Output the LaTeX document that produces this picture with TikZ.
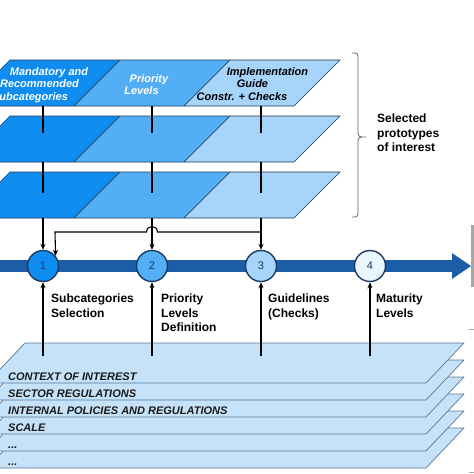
\documentclass[tikz,border=0pt]{standalone}
\usepackage{fontspec}
\setmainfont{Liberation Sans}
\usetikzlibrary{arrows.meta}
\definecolor{sA}{HTML}{0E8CF0}
\definecolor{sB}{HTML}{52AEF5}
\definecolor{sC}{HTML}{A6D4FA}
\definecolor{sD}{HTML}{EAF5FE}
\definecolor{navy}{HTML}{1D3A5E}
\definecolor{band}{HTML}{1B5DA6}
\definecolor{layer}{HTML}{C6E2F8}
\definecolor{layerline}{HTML}{58779A}
\begin{document}
\begin{tikzpicture}[x=1pt,y=-1pt,
 seg/.style={draw=navy, line width=0.6pt, line join=round},
 conn/.style={line width=1.1pt, draw=black},
 arr/.style={conn, -{Stealth[length=6pt,width=5pt]}},
 stepc/.style={circle, draw=navy, line width=1.4pt, minimum size=31pt, inner sep=0pt, font=\fontsize{11}{11}\selectfont, text=navy},
 lbl/.style={anchor=north west, inner sep=0pt, align=left, font=\fontsize{12}{14.5}\selectfont\bfseries},
 ptext/.style={inner sep=0pt, anchor=base, font=\fontsize{11}{12}\selectfont\bfseries\itshape},
 ltext/.style={inner sep=0pt, anchor=base west, font=\fontsize{11}{12}\selectfont\bfseries\itshape, text=black!90},
 plane/.style={fill=layer, draw=layerline, line width=0.7pt, line join=round}]
\useasboundingbox (0,0) rectangle (474,474);
\begin{scope}
\clip (0,0) rectangle (474,474);
% bottom layers
\foreach \k in {5,4,...,0} {
  \pgfmathsetmacro\t{343+17*\k}
  \draw[plane] (25,\t) -- (464,\t) -- (426,\t+40) -- (-13,\t+40) -- cycle;
}
\node[ltext] (c1) at (8,380) {CONTEXT OF INTEREST};
\node[ltext] (c2) at (8,397) {SECTOR REGULATIONS};
\node[ltext] (c3) at (8,414) {INTERNAL POLICIES AND REGULATIONS};
\node[ltext] (c4) at (8,431) {SCALE};
\node[ltext] (c5) at (8,448) {...};
\node[ltext] (c6) at (8,465) {...};
% top planes
\foreach \ty in {60,116,172}{
 \foreach \i/\c in {0/sA,1/sB,2/sC}{
   \pgfmathsetmacro\xa{10+110*\i}
   \draw[seg, fill=\c] (\xa,\ty) -- (\xa+110,\ty) -- (\xa+64,\ty+46) -- (\xa-46,\ty+46) -- cycle;
 }}
\node[ptext, text=white] (m1) at (49,75) {Mandatory and};
\node[ptext, text=white] (m2) at (39.5,87.5) {Recommended};
\node[ptext, text=white] (m3) at (30,100) {Subcategories};
\node[ptext, text=white] (p1) at (149,82) {Priority};
\node[ptext, text=white] (p2) at (141.5,94) {Levels};
\node[ptext] (i1) at (267.5,75) {Implementation};
\node[ptext] (i2) at (252.5,87.5) {Guide};
\node[ptext] (i3) at (242,100) {Constr. + Checks};
% plane pass-through lines
\foreach \n/\x in {1/43,2/152,3/261}{
  \coordinate (a\n) at (\x,106); \coordinate (b\n) at (\x,133);
  \coordinate (d\n) at (\x,162); \coordinate (e\n) at (\x,193);
  \coordinate (t\n) at (\x,218);
  \draw[conn] (a\n) -- (b\n);
  \draw[conn] (d\n) -- (e\n);
}
% timeline
\fill[band] (0,260) rectangle (453,272);
\fill[band] (452,253) -- (471,266) -- (452,279) -- cycle;
\node[stepc, fill=sA] (s1) at (43,266) {1};
\node[stepc, fill=sB] (s2) at (152,266) {2};
\node[stepc, fill=sC] (s3) at (261,266) {3};
\node[stepc, fill=sD] (s4) at (370,266) {4};
\draw[arr] (t1) -- (s1.north);
\draw[arr] (t2) -- (s2.north);
\draw[arr] (t3) -- (s3.north);
\coordinate (j3) at (261,232);
\coordinate (hr) at (157.5,232);
\coordinate (hl) at (146.5,232);
\coordinate (k1) at (55,232);
\draw[arr] (j3) -- (hr) .. controls (157.5,224.7) and (146.5,224.7) .. (hl) -- (k1) -- (s1.39);
\foreach \n/\x in {1/43,2/152,3/261,4/370}{
  \coordinate (u\n) at (\x,356);
  \draw[arr] (u\n) -- (s\n.south);
}
\node[lbl] (L1) at (51,294) {Subcategories\\Selection};
\node[lbl] (L2) at (161,294) {Priority\\Levels\\Definition};
\node[lbl] (L3) at (268,294) {Guidelines\\(Checks)};
\node[lbl] (L4) at (376,294) {Maturity\\Levels};
% brace
\draw[gray!80!black, line width=0.8pt] (352,53) .. controls (358,53) .. (358,60) -- (358,130) .. controls (358,137) .. (366,137) .. controls (358,137) .. (358,144) -- (358,210) .. controls (358,217) .. (352,217);
\node[lbl] (sel) at (377,114) {Selected\\prototypes\\of interest};
% cropped edge marks
\fill[gray!70] (471,225) rectangle (474,287);
\draw[gray!70, line width=0.6pt] (469,329) -- (474,329);
\draw[gray!70, line width=0.6pt] (469,472) -- (474,472);
\end{scope}
\end{tikzpicture}
\end{document}
